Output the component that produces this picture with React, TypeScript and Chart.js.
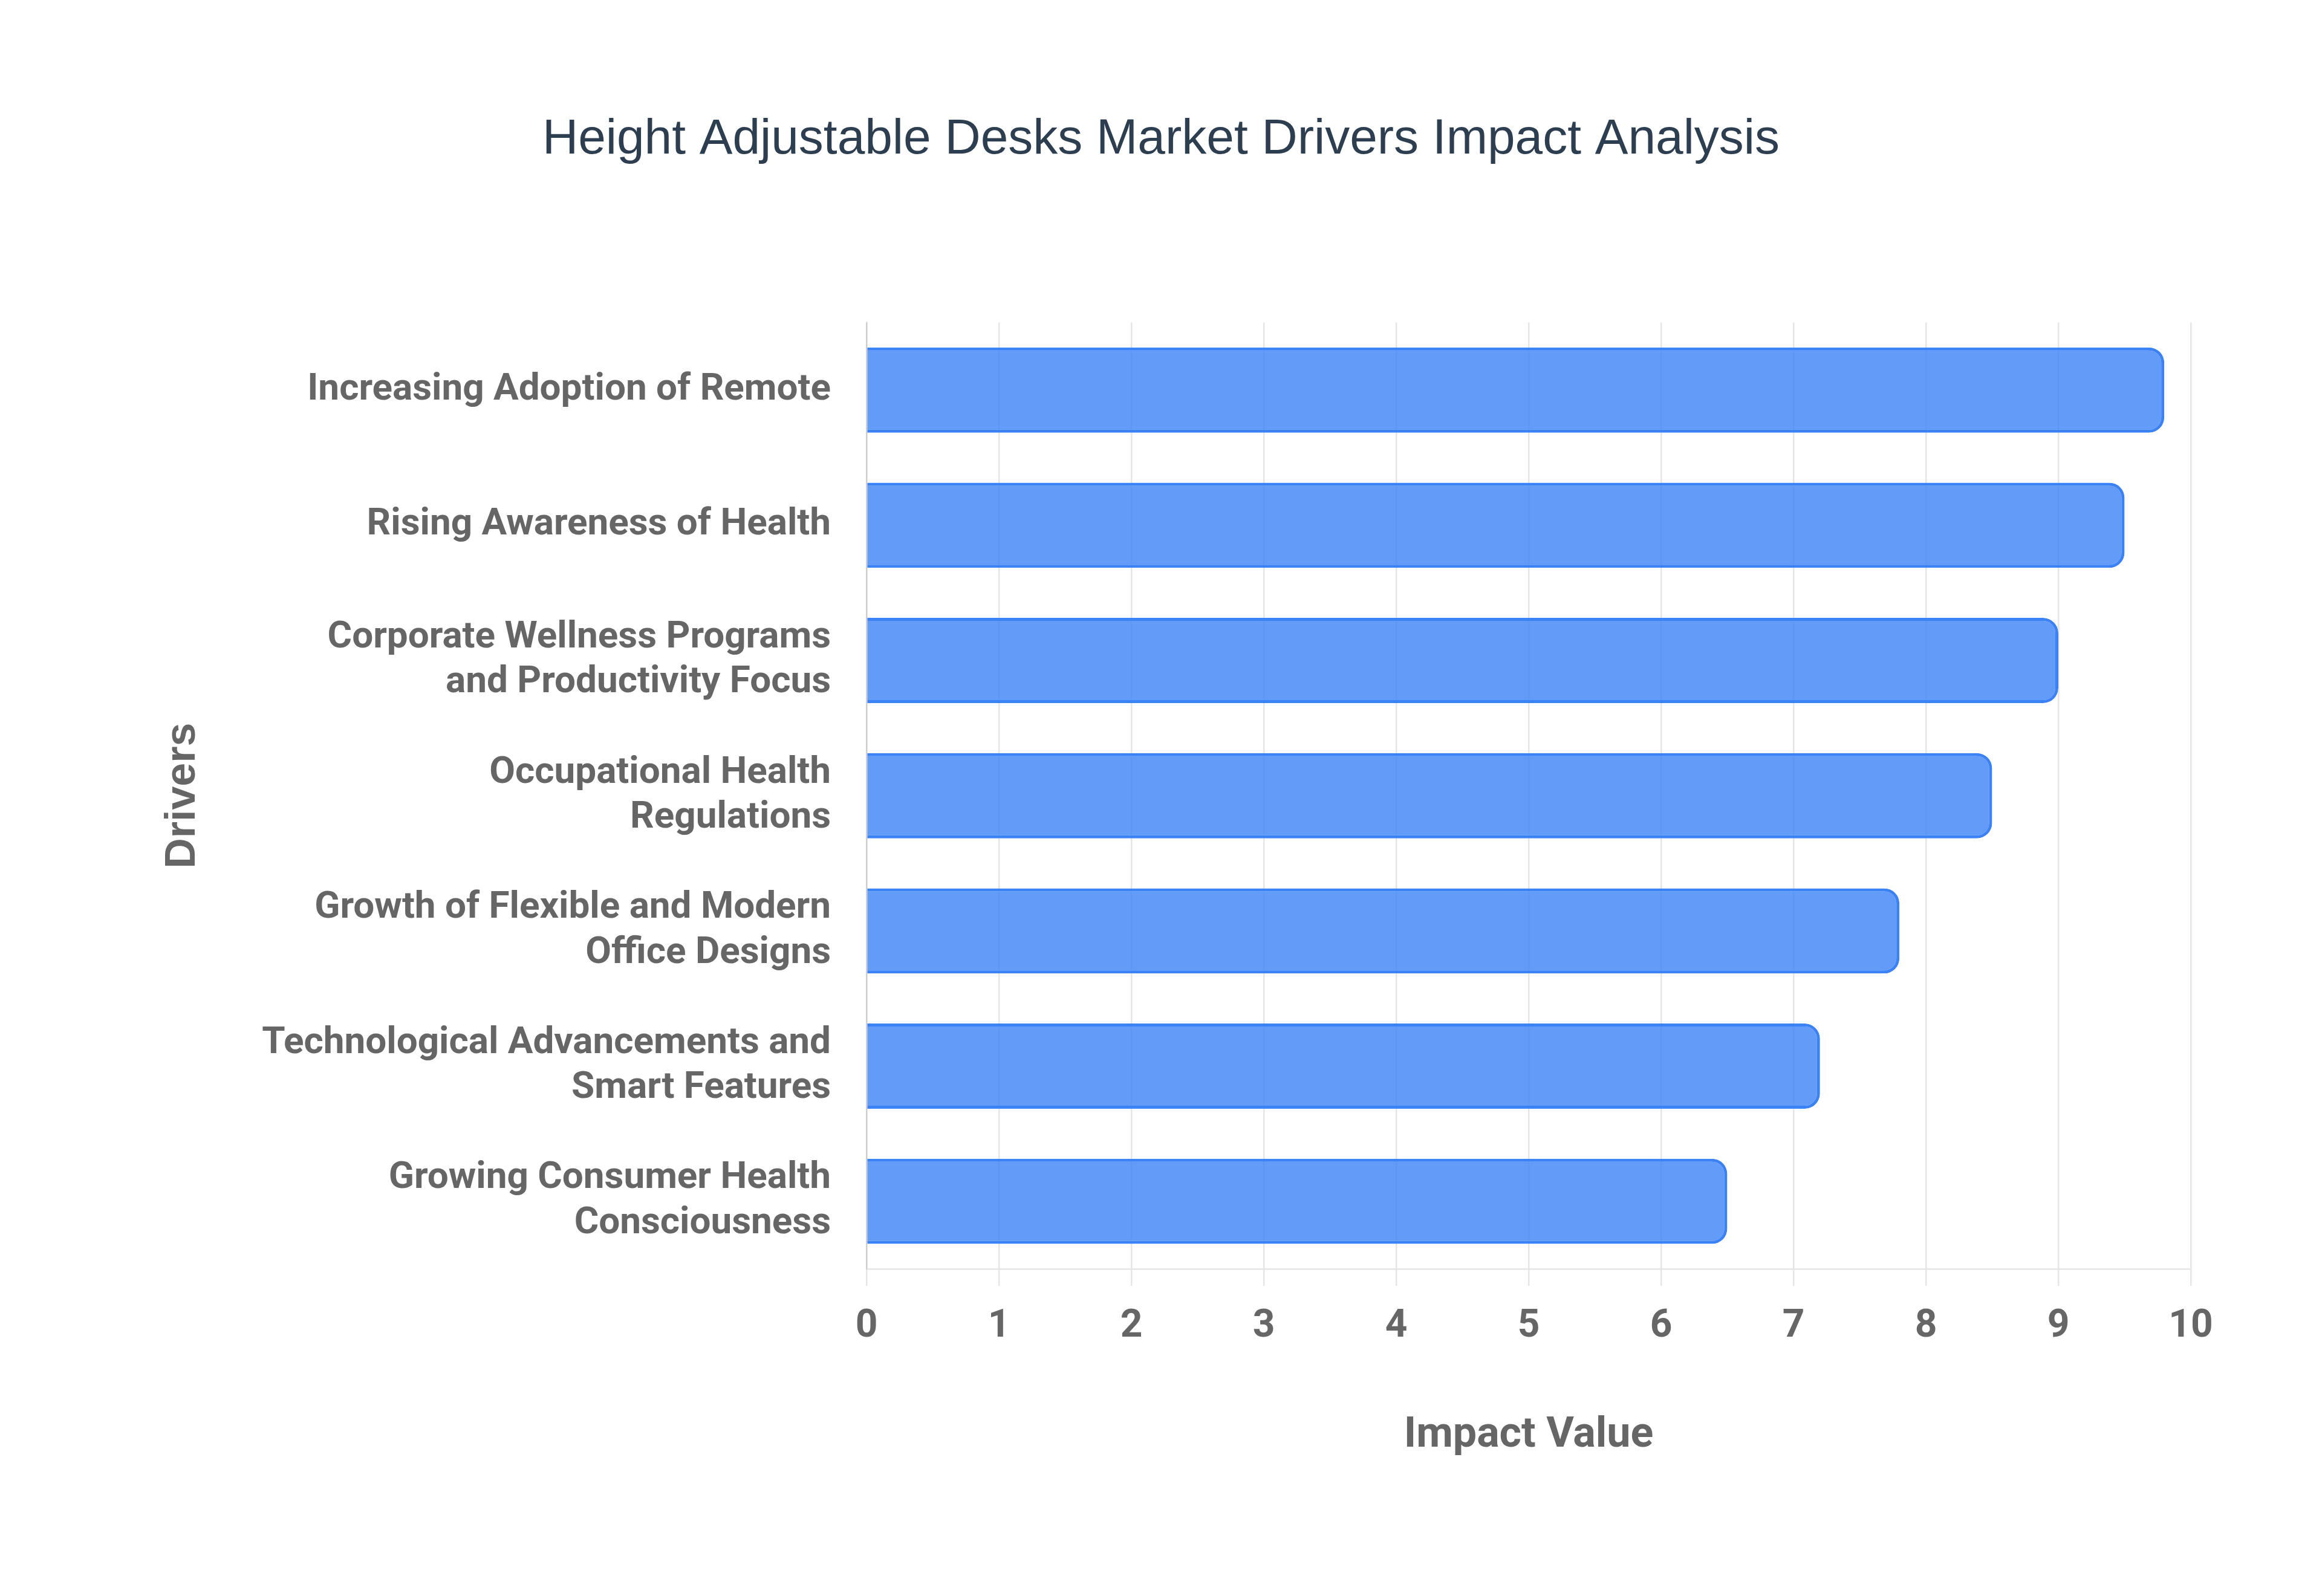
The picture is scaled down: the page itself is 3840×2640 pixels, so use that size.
import { useEffect, useRef } from 'react'
import { Chart, registerables } from 'chart.js'

Chart.register(...registerables)

const drivers: (string | string[])[] = [
  'Increasing Adoption of Remote',
  'Rising Awareness of Health',
  ['Corporate Wellness Programs', 'and Productivity Focus'],
  ['Occupational Health', 'Regulations'],
  ['Growth of Flexible and Modern', 'Office Designs'],
  ['Technological Advancements and', 'Smart Features'],
  ['Growing Consumer Health', 'Consciousness'],
]
const impactValues = [9.8, 9.5, 9.0, 8.5, 7.8, 7.2, 6.5]

const chartTitle = 'Height Adjustable Desks Market Drivers Impact Analysis'
const xTitle = 'Impact Value'
const yTitle = 'Drivers'

export default function App() {
  const canvasRef = useRef<HTMLCanvasElement>(null)
  const chartInst = useRef<Chart | null>(null)

  useEffect(() => {
    if (!canvasRef.current) return
    chartInst.current?.destroy()
    chartInst.current = new Chart(canvasRef.current, {
      type: 'bar',
      data: {
        labels: drivers,
        datasets: [{
          label: 'Impact',
          data: impactValues,
          backgroundColor: 'rgba(59,130,246,0.8)',
          borderColor: '#3b82f6',
          borderWidth: 5,
          borderRadius: 25,
          categoryPercentage: 0.7,
          barPercentage: 0.9,
        }],
      },
      options: {
        indexAxis: 'y',
        responsive: true,
        maintainAspectRatio: false,
        devicePixelRatio: 1,
        animation: false,
        layout: { padding: { top: 0, left: 217, right: 217, bottom: 0 } },
        plugins: {
          legend: { display: false },
          tooltip: { enabled: false },
          title: {
            display: true,
            text: chartTitle,
            color: '#2c3e50',
            font: { family: '"Liberation Sans", Arial, sans-serif', size: 82, weight: 'normal' },
            padding: { top: 182, bottom: 253 },
          },
        },
        scales: {
          x: {
            min: 0,
            max: 10,
            ticks: {
              stepSize: 1,
              color: '#666',
              padding: 30,
              font: { family: 'Roboto, sans-serif', size: 64, weight: 'bold' },
            },
            grid: { color: 'rgba(0,0,0,0.1)', lineWidth: 2.5, tickLength: 28 },
            border: { color: 'rgba(0,0,0,0.1)', width: 2.5 },
            title: {
              display: true,
              text: xTitle,
              color: '#666',
              font: { family: 'Roboto, sans-serif', size: 70, weight: 'bold' },
              padding: { top: 0, bottom: 223 },
            },
            afterFit: (scale: any) => { scale.height = 2640 - 2099 },
          },
          y: {
            ticks: {
              color: '#666',
              padding: 59,
              font: { family: 'Roboto, sans-serif', size: 62, weight: 'bold' },
            },
            grid: { display: false, drawTicks: false },
            border: { color: 'rgba(0,0,0,0.1)', width: 2.5 },
            title: {
              display: true,
              text: yTitle,
              color: '#666',
              font: { family: '"Liberation Sans", Arial, sans-serif', size: 70, weight: 'bold' },
              padding: { top: 44, bottom: 40 },
            },
            afterFit: (scale: any) => { scale.width = 1433 - 217 },
          },
        },
      },
    })
    return () => chartInst.current?.destroy()
  }, [])

  return (
    <div style={{ position: 'fixed', left: 0, top: 0, width: 3840, height: 2640, background: '#fff' }}>
      <canvas ref={canvasRef} />
    </div>
  )
}
